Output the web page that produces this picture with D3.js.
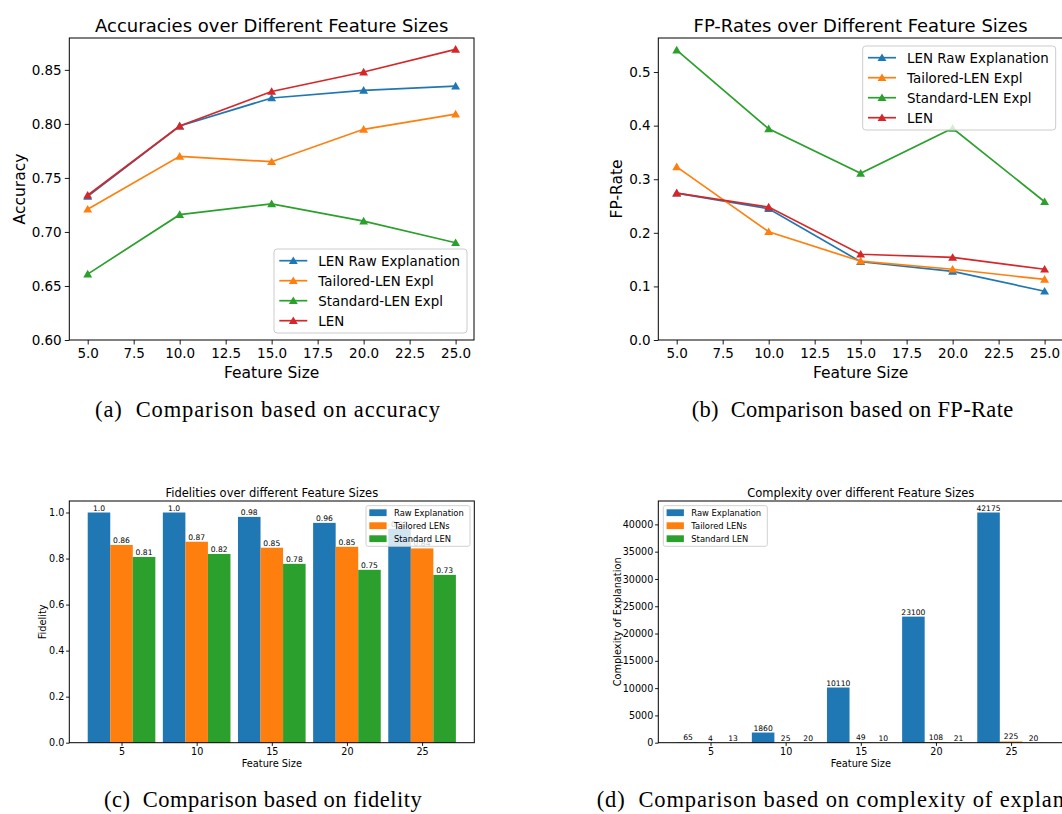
<!DOCTYPE html>
<html><head><meta charset="utf-8">
<script src="https://cdn.jsdelivr.net/npm/d3@7"></script>
<style>
body{margin:0;background:#fff}
svg{display:block}
text{font-family:"DejaVu Sans",sans-serif;fill:#000}
</style>
</head><body><svg id="c" width="1062" height="814"></svg>
<script>
// ---------------- data ----------------
const featureSizes = [5, 10, 15, 20, 25];
const lineSeriesNames = ["LEN Raw Explanation", "Tailored-LEN Expl", "Standard-LEN Expl", "LEN"];
const accuracyRaw      = [0.733, 0.798, 0.824, 0.831, 0.835];
const accuracyTailored = [0.721, 0.770, 0.765, 0.795, 0.809];
const accuracyStandard = [0.661, 0.716, 0.726, 0.710, 0.690];
const accuracyLEN      = [0.734, 0.798, 0.830, 0.848, 0.869];
const fpRaw      = [0.274, 0.245, 0.146, 0.128, 0.091];
const fpTailored = [0.323, 0.202, 0.147, 0.132, 0.113];
const fpStandard = [0.541, 0.394, 0.311, 0.395, 0.258];
const fpLEN      = [0.274, 0.248, 0.160, 0.154, 0.132];
const barSeriesNames = ["Raw Explanation", "Tailored LENs", "Standard LEN"];
const fidelityRaw      = [1.0, 1.0, 0.981, 0.955, 0.929];
const fidelityTailored = [0.859, 0.873, 0.847, 0.851, 0.844];
const fidelityStandard = [0.807, 0.820, 0.777, 0.751, 0.729];
const complexityRaw      = [65, 1860, 10110, 23100, 42175];
const complexityTailored = [4, 25, 49, 108, 225];
const complexityStandard = [13, 20, 10, 21, 20];
const lineXTicks = [5, 7.5, 10, 12.5, 15, 17.5, 20, 22.5, 25];
const accuracyYTicks = [0.60, 0.65, 0.70, 0.75, 0.80, 0.85];
const fpYTicks = [0.0, 0.1, 0.2, 0.3, 0.4, 0.5];
const fidelityYTicks = [0.0, 0.2, 0.4, 0.6, 0.8, 1.0];
const complexityYTicks = [0, 5000, 10000, 15000, 20000, 25000, 30000, 35000, 40000];
const captions = ["(a)  Comparison based on accuracy", "(b)  Comparison based on FP-Rate",
                  "(c)  Comparison based on fidelity", "(d)  Comparison based on complexity of explanation"];
const colors = ["#1f77b4", "#ff7f0e", "#2ca02c", "#d62728"];

const svg = d3.select("#c");
svg.append("rect").attr("width", 1062).attr("height", 814).attr("fill", "#fff");

function spines(g, l, t, w, h) {
  g.append("rect").attr("x", l).attr("y", t).attr("width", w).attr("height", h)
    .attr("fill", "none").attr("stroke", "#000").attr("stroke-width", 1);
}

function styleAxis(sel, fs) {
  sel.select(".domain").remove();
  sel.selectAll("line").attr("stroke", "#000").attr("stroke-width", 0.9);
  sel.selectAll("text").attr("font-size", fs).attr("fill", "#000").attr("font-family", "DejaVu Sans");
}

function lineChart(cfg) {
  const g = svg.append("g");
  const {left, top, width, height} = cfg;
  const x = d3.scaleLinear().domain(cfg.xDomain).range([left, left + width]);
  const y = d3.scaleLinear().domain(cfg.yDomain).range([top + height, top]);
  const ax = g.append("g").attr("transform", `translate(0,${top + height})`)
    .call(d3.axisBottom(x).tickValues(lineXTicks).tickFormat(d3.format(".1f")).tickSize(4.5).tickPadding(3.8).tickSizeOuter(0));
  styleAxis(ax, 13.5);
  const ay = g.append("g").attr("transform", `translate(${left},0)`)
    .call(d3.axisLeft(y).tickValues(cfg.yTicks).tickFormat(d3.format(cfg.yFmt)).tickSize(4.5).tickPadding(3.1).tickSizeOuter(0));
  styleAxis(ay, 13.5);
  const line = d3.line().x((d, i) => x(featureSizes[i])).y(d => y(d));
  const tri = d3.symbol(d3.symbolTriangle, 34);
  cfg.series.forEach((s, k) => {
    g.append("path").attr("d", line(s)).attr("fill", "none").attr("stroke", colors[k]).attr("stroke-width", 1.7);
    g.selectAll(null).data(s).enter().append("path").attr("d", tri)
      .attr("transform", (d, i) => `translate(${x(featureSizes[i])},${y(d) + 0.8})`).attr("fill", colors[k]);
  });
  spines(g, left, top, width, height);
  g.append("text").attr("x", left + width / 2).attr("y", top - 6).attr("text-anchor", "middle")
    .attr("font-size", 18).text(cfg.title);
  g.append("text").attr("x", left + width / 2).attr("y", top + height + 38).attr("text-anchor", "middle")
    .attr("font-size", 15.5).text("Feature Size");
  g.append("text").attr("transform", `translate(${left - cfg.ylabOff},${top + height / 2}) rotate(-90)`)
    .attr("text-anchor", "middle").attr("font-size", 15.5).text(cfg.ylabel);
  // legend
  const lw = 193, lh = 84;
  const lx = cfg.legendPos === "lr" ? left + width - 7 - lw : left + width - 7.3 - lw;
  const ly = cfg.legendPos === "lr" ? top + height - 7 - lh : top + 8;
  const lg = g.append("g");
  lg.append("rect").attr("x", lx).attr("y", ly).attr("width", lw).attr("height", lh).attr("rx", 3)
    .attr("fill", "#fff").attr("fill-opacity", 0.8).attr("stroke", "#cccccc").attr("stroke-width", 1);
  lineSeriesNames.forEach((n, k) => {
    const ry = ly + 11.7 + k * 20;
    lg.append("line").attr("x1", lx + 5.3).attr("x2", lx + 33.3).attr("y1", ry).attr("y2", ry)
      .attr("stroke", colors[k]).attr("stroke-width", 1.7);
    lg.append("path").attr("d", tri).attr("transform", `translate(${lx + 19.3},${ry + 0.8})`).attr("fill", colors[k]);
    lg.append("text").attr("x", lx + 44.3).attr("y", ry).attr("dy", "0.36em").attr("font-size", 13.4).text(n);
  });
}

function barChart(cfg) {
  const g = svg.append("g");
  const {left, top, width, height} = cfg;
  const x = d3.scaleLinear().domain([1.525, 28.475]).range([left, left + width]);
  const y = d3.scaleLinear().domain(cfg.yDomain).range([top + height, top]);
  const bw = 1.5;
  cfg.series.forEach((s, k) => {
    g.selectAll(null).data(s).enter().append("rect")
      .attr("x", (d, i) => x(featureSizes[i] + (k - 1) * bw - bw / 2))
      .attr("width", (d, i) => x(featureSizes[i] + (k - 1) * bw + bw / 2) - x(featureSizes[i] + (k - 1) * bw - bw / 2))
      .attr("y", d => y(d)).attr("height", d => y(0) - y(d)).attr("fill", colors[k]);
    g.selectAll(null).data(s).enter().append("text")
      .attr("x", (d, i) => x(featureSizes[i] + (k - 1) * bw)).attr("y", d => y(d) - 2)
      .attr("text-anchor", "middle").attr("font-size", 7.6).attr("fill", "#222").text(cfg.labelFmt);
  });
  const ax = g.append("g").attr("transform", `translate(0,${top + height})`)
    .call(d3.axisBottom(x).tickValues(featureSizes).tickFormat(d3.format("d")).tickSize(3.2).tickPadding(2.2).tickSizeOuter(0));
  styleAxis(ax, 9.6);
  const ay = g.append("g").attr("transform", `translate(${left},0)`)
    .call(d3.axisLeft(y).tickValues(cfg.yTicks).tickFormat(cfg.yFmt).tickSize(3.2).tickPadding(1.8).tickSizeOuter(0));
  styleAxis(ay, 9.6);
  spines(g, left, top, width, height);
  g.append("text").attr("x", left + width / 2).attr("y", top - 4).attr("text-anchor", "middle")
    .attr("font-size", 11.5).text(cfg.title);
  g.append("text").attr("x", left + width / 2).attr("y", top + height + 24.5).attr("text-anchor", "middle")
    .attr("font-size", 9.8).text("Feature Size");
  g.append("text").attr("transform", `translate(${left - cfg.ylabOff},${top + height / 2}) rotate(-90)`)
    .attr("text-anchor", "middle").attr("font-size", 9.8).text(cfg.ylabel);
  const lw = 104, lh = 40.6;
  const lx = cfg.legendPos === "ur" ? left + width - 4.3 - lw : left + 5;
  const ly = top + 4.7;
  const lg = g.append("g");
  lg.append("rect").attr("x", lx).attr("y", ly).attr("width", lw).attr("height", lh).attr("rx", 2)
    .attr("fill", "#fff").attr("fill-opacity", 0.8).attr("stroke", "#cccccc").attr("stroke-width", 0.9);
  barSeriesNames.forEach((n, k) => {
    const ry = ly + 7 + k * 13;
    lg.append("rect").attr("x", lx + 3.3).attr("y", ry - 3.4).attr("width", 17.3).attr("height", 6.8).attr("fill", colors[k]);
    lg.append("text").attr("x", lx + 28).attr("y", ry).attr("dy", "0.36em").attr("font-size", 8.4).text(n);
  });
}

lineChart({left: 69.3, top: 38, width: 404.7, height: 302, xDomain: [4, 26], yDomain: [0.6, 0.8795],
  yTicks: accuracyYTicks, yFmt: ".2f", title: "Accuracies over Different Feature Sizes", ylabel: "Accuracy",
  ylabOff: 44.7, legendPos: "lr", series: [accuracyRaw, accuracyTailored, accuracyStandard, accuracyLEN]});
lineChart({left: 658.3, top: 38, width: 404.7, height: 302, xDomain: [4, 26], yDomain: [0, 0.5635],
  yTicks: fpYTicks, yFmt: ".1f", title: "FP-Rates over Different Feature Sizes", ylabel: "FP-Rate",
  ylabOff: 36.7, legendPos: "ur", series: [fpRaw, fpTailored, fpStandard, fpLEN]});

const fidFmt = v => { const r = Math.round(v * 100) / 100; let s = String(r); if (!s.includes(".")) s += ".0"; return s; };
barChart({left: 69.3, top: 501, width: 405, height: 241.7, yDomain: [0, 1.05], yTicks: fidelityYTicks,
  yFmt: d3.format(".1f"), labelFmt: fidFmt, title: "Fidelities over different Feature Sizes", ylabel: "Fidelity",
  ylabOff: 23.3, legendPos: "ur", series: [fidelityRaw, fidelityTailored, fidelityStandard]});
barChart({left: 658.3, top: 501, width: 405, height: 241.7, yDomain: [0, 42175 * 1.05], yTicks: complexityYTicks,
  yFmt: d3.format("d"), labelFmt: d3.format("d"), title: "Complexity over different Feature Sizes",
  ylabel: "Complexity of Explanation", ylabOff: 37.8, legendPos: "ul",
  series: [complexityRaw, complexityTailored, complexityStandard]});

// captions
const cap = svg.append("g").attr("font-family", "Liberation Serif");
const capSpec = [
  {x: 95, y: 416.5, len: 345},
  {x: 691.7, y: 416.5, len: 321.5},
  {x: 104, y: 806.5, len: 317.7},
  {x: 596.7, y: 806.5, len: null}
];
const capNodes = capSpec.map((c, i) => cap.append("text").attr("x", c.x).attr("y", c.y).attr("font-size", 22.5)
    .style("font-family", "Liberation Serif").style("white-space", "pre").text(captions[i]));
// scale the last caption's spacing with the same ratio as the first one
const ratio = capSpec[0].len / capNodes[0].node().getComputedTextLength();
capSpec[3].len = capNodes[3].node().getComputedTextLength() * ratio;
capNodes.forEach((t, i) => t.attr("textLength", capSpec[i].len).attr("lengthAdjust", "spacing"));
</script>
</body></html>
